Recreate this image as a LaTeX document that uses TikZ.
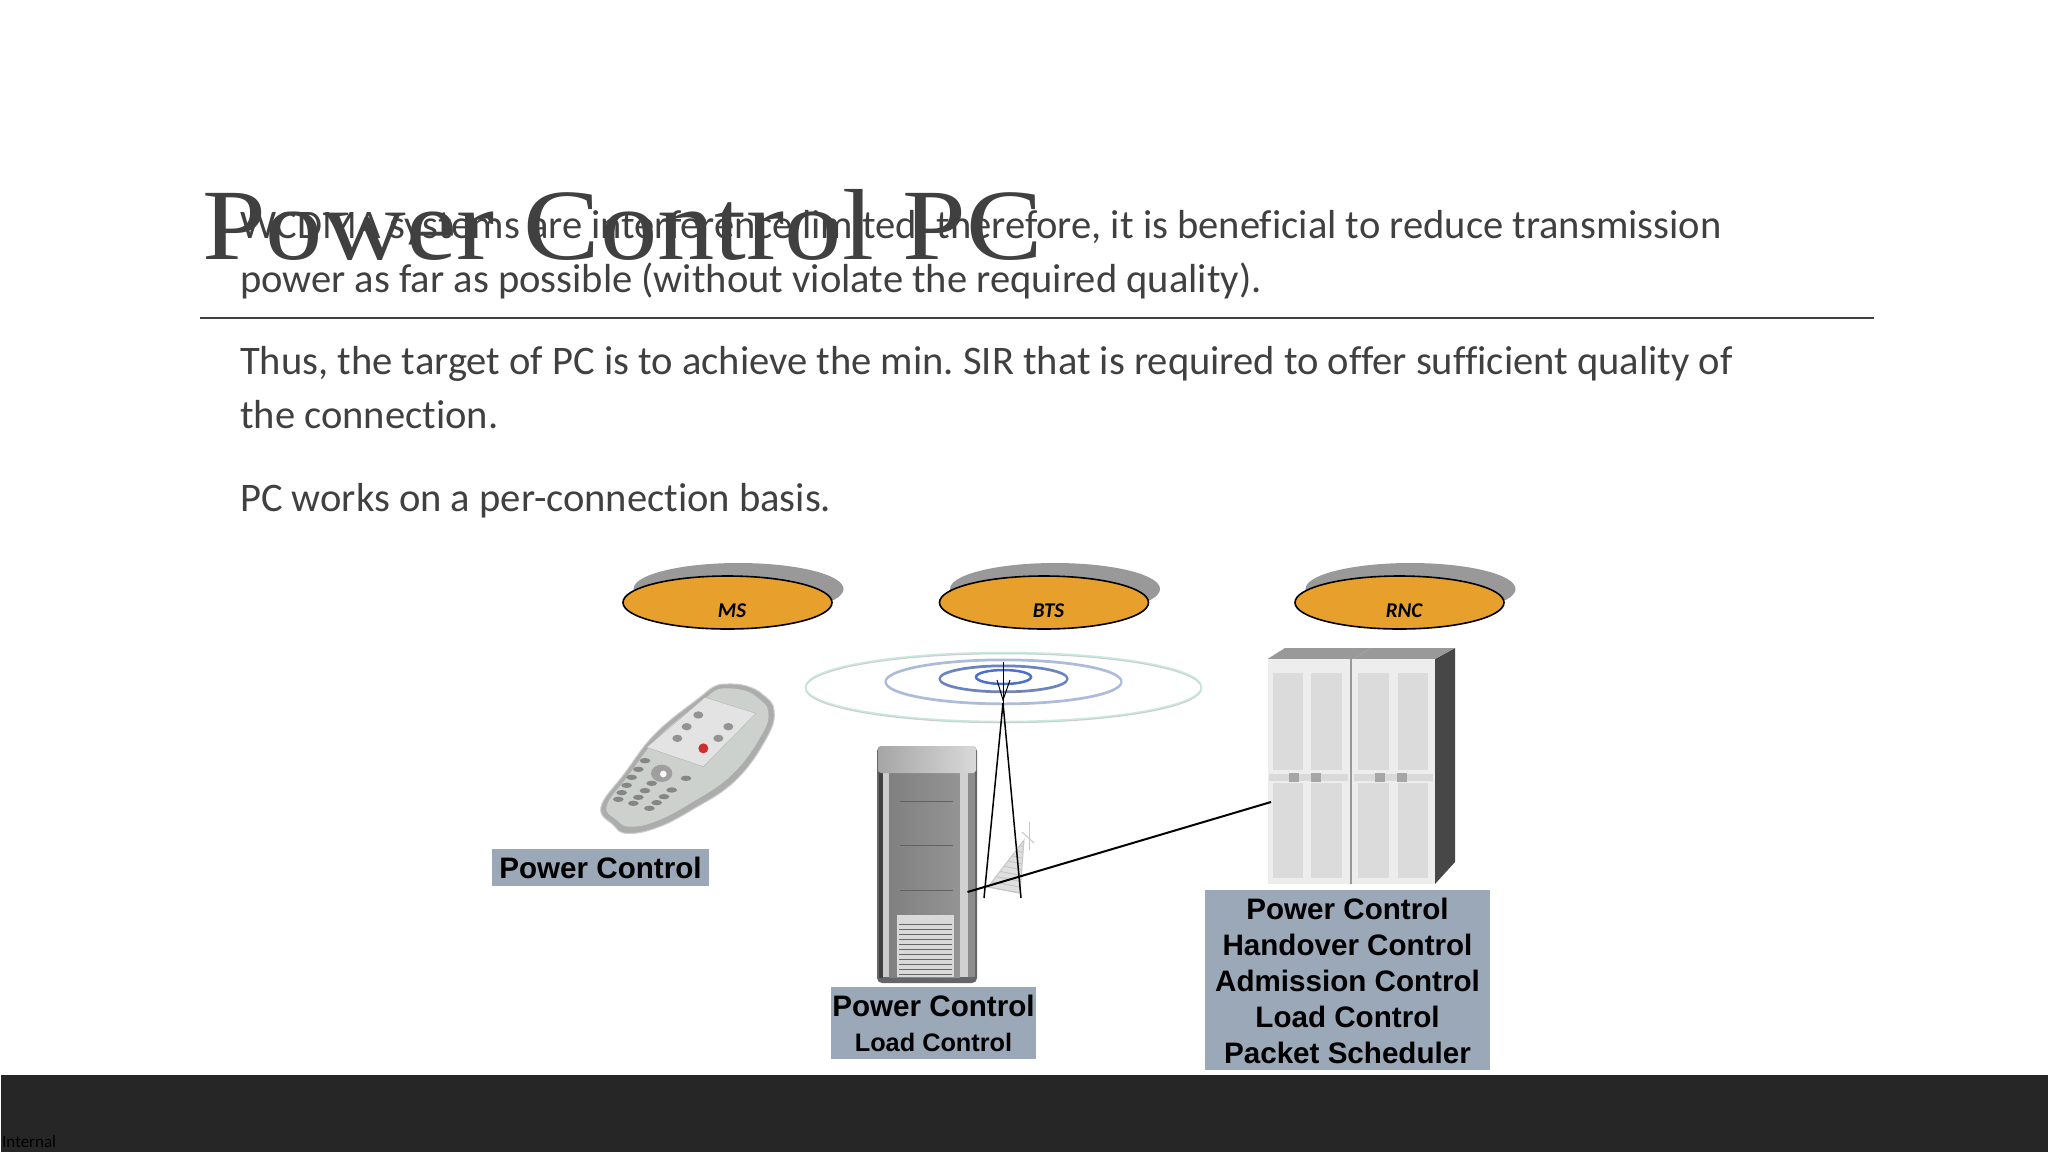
\documentclass[tikz,border=0pt]{standalone}
\usepackage{fontspec}
\setmainfont[Ligatures=NoCommon]{Carlito}
\newfontfamily\titlefont[FakeStretch=1.135]{Liberation Serif}
\newfontfamily\boxfont{Liberation Sans}
\usetikzlibrary{shapes.geometric}
\definecolor{bodytext}{HTML}{404040}
\definecolor{footband}{HTML}{262626}
\definecolor{tagfill}{HTML}{9AA8B8}
\definecolor{capfill}{HTML}{E8A02C}
\definecolor{capshade}{HTML}{999999}
\definecolor{ringa}{HTML}{C5E8E0}
\definecolor{ringb}{HTML}{A8BCE0}
\definecolor{ringc}{HTML}{6484C8}
\definecolor{ringd}{HTML}{4A70C8}
\definecolor{shell}{HTML}{CDD1CD}
\tikzset{
  bodyline/.style={anchor=base west, inner sep=0pt, text=bodytext, font=\fontsize{40.55}{40}\selectfont\frenchspacing},
  capnode/.style={ellipse, draw=black, line width=1.6pt, fill=capfill, minimum width=209pt, minimum height=53pt, inner sep=0pt},
  captext/.style={font=\fontsize{21}{21}\selectfont\bfseries\itshape},
  tagbox/.style={fill=tagfill},
  tagtext/.style={anchor=base, inner sep=0pt, font=\fontsize{29.6}{30}\boxfont\bfseries\selectfont},
  link/.style={line width=2pt, black},
  mastline/.style={line width=1.5pt, black},
}
\begin{document}
\begin{tikzpicture}[x=1pt, y=-1pt]
  \useasboundingbox (0, 0) rectangle (2048, 1152);
  \fill[white] (0, 0) rectangle (2048, 1152);
  % footer
  \fill[footband] (1, 1075) rectangle (2048, 1152);
  \node[anchor=base west, inner sep=0pt, font=\fontsize{17}{17}\selectfont] (internal) at (2, 1147) {Internal};
  % text
  \node[bodyline] (line1) at (240, 238) {WCDMA systems are interference limited, therefore, it is beneficial to reduce transmission};
  \node[bodyline] (line2) at (240, 292) {power as far as possible (without violate the required quality).};
  \node[bodyline] (line3) at (240, 374) {Thus, the target of PC is to achieve the min. SIR that is required to offer sufficient quality of};
  \node[bodyline] (line4) at (240, 428) {the connection.};
  \node[bodyline] (line5) at (240, 511) {PC works on a per-connection basis.};
  \node[anchor=base west, inner sep=0pt, text=bodytext, font=\fontsize{101}{101}\titlefont\selectfont] (title) at (202, 259) {Power Control PC};
  \draw[line width=2pt, bodytext] (200, 318) -- (1874, 318);
  % caption ellipses
  \foreach \capname/\capx/\captxt in {ms/727.5/MS, bts/1044/BTS, rnc/1399.5/RNC} {
    \fill[capshade] (\capx + 11, 589) ellipse [x radius=105, y radius=26];
    \node[capnode] (\capname) at (\capx, 602.5) {};
    \node[captext, anchor=base] (\capname txt) at (\capx + 4.5, 617) {\captxt};
  }
  % radio rings
  \draw[line width=1.5pt, gray!40] (1003.5, 688) ellipse [x radius=198, y radius=34.5];
  \draw[line width=1.5pt, ringa] (1003.5, 687) ellipse [x radius=198, y radius=34.5];
  \draw[line width=1.5pt, gray!50] (1003.5, 682.5) ellipse [x radius=118, y radius=22];
  \draw[line width=2pt, ringb] (1003.5, 681.5) ellipse [x radius=118, y radius=22];
  \draw[line width=1.5pt, gray!90] (1003.5, 679.5) ellipse [x radius=64, y radius=13];
  \draw[line width=2pt, ringc] (1003.5, 678.5) ellipse [x radius=64, y radius=13];
  \draw[line width=2.5pt, ringd] (1003.5, 677) ellipse [x radius=27.5, y radius=7];
  % small tower
  \begin{scope}[gray!45, line width=1pt]
    \fill[gray!25] (988, 887) -- (1024, 840) -- (1020, 893) -- cycle;
    \draw (988, 887) -- (1024, 840) -- (1020, 893) -- cycle;
    \foreach \towerk in {0, 1, ..., 8} {
      \draw (988 + \towerk*4, 887 - \towerk*5.2) -- (1020 + \towerk*0.4, 893 - \towerk*5.8);
    }
    \draw (1029, 822) -- (1029, 850);
    \draw (1022, 832) -- (1034, 843);
  \end{scope}
  % BTS cabinet
  \fill[black!60, rounded corners=5pt] (877, 746) rectangle (977, 983);
  \fill[black!75] (879, 760) rectangle (883, 978);
  \fill[black!20] (883, 773) rectangle (889, 977);
  \shade[left color=black!50, right color=black!42] (889, 773) rectangle (960, 977);
  \fill[black!18] (960, 773) rectangle (968, 977);
  \fill[black!45] (968, 773) rectangle (975, 977);
  \shade[left color=black!35, right color=black!15, rounded corners=3pt] (878, 746) rectangle (976, 773);
  \foreach \ledgey in {801, 845, 890} {
    \draw[black!62, line width=1pt] (900, \ledgey) -- (953, \ledgey);
  }
  \fill[black!15] (897, 915) rectangle (954, 977);
  \foreach \venty in {924, 929, ..., 975} {
    \draw[black!60, line width=1pt] (899, \venty) -- (952, \venty);
  }
  % RNC cabinet
  \fill[black!72] (1435, 659) -- (1455, 648) -- (1455, 862) -- (1435, 884) -- cycle;
  \fill[gray!80] (1267.5, 659) -- (1285, 648) -- (1371, 648) -- (1353, 659) -- cycle;
  \fill[gray!80] (1353, 659) -- (1371, 648) -- (1455, 648) -- (1435, 659) -- cycle;
  \fill[gray!14] (1267.5, 659) rectangle (1435, 884);
  \draw[gray!80, line width=1.2pt] (1351, 659) -- (1351, 884);
  \foreach \doorx/\doorw in {1273/30, 1311/31, 1358/31, 1398/30} {
    \fill[gray!28] (\doorx, 673) rectangle (\doorx + \doorw, 770);
    \fill[gray!28] (\doorx, 783) rectangle (\doorx + \doorw, 878);
  }
  \fill[gray!30] (1269, 774) rectangle (1348, 781);
  \fill[gray!30] (1354, 774) rectangle (1433, 781);
  \foreach \latchx in {1289, 1311, 1375, 1397} {
    \fill[gray!70] (\latchx, 773) rectangle (\latchx + 10, 782);
  }
  % handset
  \begin{scope}[shift={(590, 670)}, x=0.3333pt, y=-0.3333pt]
    \fill[gray!65, draw=gray!40, line width=1pt] plot[smooth cycle, tension=0.7] coordinates {
      (520, 75) (470, 48) (411, 42) (372, 50) (331, 81) (198, 189) (104, 310) (33, 411) (70, 465)
      (110, 490) (198, 474) (305, 420) (438, 330) (532, 200) (552, 120)};
    \fill[shell] plot[smooth cycle, tension=0.7] coordinates {
      (505, 85) (465, 62) (411, 55) (375, 62) (338, 92) (208, 198) (114, 318) (50, 408) (80, 450)
      (118, 470) (195, 455) (298, 402) (425, 315) (515, 195) (535, 125)};
    \fill[gray!22, draw=gray!60] (345, 82) -- (498, 130) -- (340, 290) -- (170, 232) -- cycle;
    \foreach \iconx/\icony in {325/135, 290/170, 262/205, 415/170, 385/205} {
      \fill[gray!85] (\iconx, \icony) ellipse [x radius=15, y radius=11];
    }
    \fill[red!65!gray] (340, 235) circle (15);
    \fill[gray!75] (215, 310) ellipse [x radius=32, y radius=26];
    \fill[gray!5] (220, 312) circle (10);
    \foreach \keyx/\keyy in {165/272, 145/298, 125/322, 110/346, 95/368, 85/388, 185/340, 165/362, 145/382, 130/400, 245/360, 222/380, 200/398, 178/415, 288/325} {
      \fill[gray!95] (\keyx, \keyy) ellipse [x radius=16, y radius=8];
    }
  \end{scope}
  % mast and connector
  \coordinate (mastfoota) at (984, 898);
  \coordinate (mastfootb) at (1021, 898);
  \coordinate (masttop) at (1003, 703);
  \draw[mastline] (mastfoota) -- (masttop) -- (mastfootb);
  \draw[line width=1pt] (1003, 662) -- (masttop);
  \draw[line width=1pt] (997, 680) -- (1003, 700) -- (1010, 680);
  \coordinate (btsport) at (967.5, 892);
  \coordinate (rncport) at (1271, 802);
  \draw[link] (btsport) -- (rncport);
  % labels
  \fill[tagbox] (492, 849) rectangle (709, 886);
  \node[tagtext] (mstag) at (600.5, 878) {Power Control};
  \fill[tagbox] (830.5, 987) rectangle (1036, 1059);
  \node[tagtext] (btstag1) at (933.5, 1016) {Power Control};
  \node[tagtext, font=\fontsize{25.3}{26}\boxfont\bfseries\selectfont] (btstag2) at (933.5, 1051) {Load Control};
  \fill[tagbox] (1205, 890) rectangle (1490, 1070);
  \node[tagtext] (rnctag1) at (1347.5, 919) {Power Control};
  \node[tagtext] (rnctag2) at (1347.5, 955) {Handover Control};
  \node[tagtext] (rnctag3) at (1347.5, 991) {Admission Control};
  \node[tagtext] (rnctag4) at (1347.5, 1027) {Load Control};
  \node[tagtext] (rnctag5) at (1347.5, 1063) {Packet Scheduler};
\end{tikzpicture}
\end{document}
